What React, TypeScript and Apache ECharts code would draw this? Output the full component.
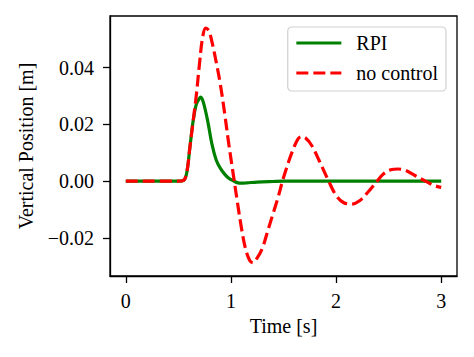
import React, { useEffect, useRef } from "react";
import * as echarts from "echarts";

const rpiTime = [0, 0.5, 0.55, 0.58, 0.61, 0.64, 0.67, 0.7, 0.714, 0.74, 0.78, 0.82, 0.86, 0.9, 0.94, 0.98, 1.02, 1.06, 1.1, 1.15, 1.25, 1.4, 1.5, 3.0];
const rpiValue = [0, 0, 0.0003, 0.003, 0.012, 0.021, 0.027, 0.0292, 0.0296, 0.0275, 0.021, 0.013, 0.0075, 0.0045, 0.0025, 0.001, 0.0002, -0.0005, -0.0007, -0.0006, -0.0003, -0.0001, 0, 0];

const noCtrlTime = [0, 0.5, 0.55, 0.58, 0.61, 0.64, 0.67, 0.7, 0.73, 0.76, 0.79, 0.82, 0.86, 0.9, 0.94, 0.98, 1.02, 1.06, 1.1, 1.14, 1.18, 1.21, 1.25, 1.3, 1.35, 1.4, 1.45, 1.49, 1.55, 1.6, 1.64, 1.67, 1.71, 1.77, 1.84, 1.93, 2.0, 2.07, 2.15, 2.22, 2.3, 2.39, 2.45, 2.52, 2.59, 2.66, 2.75, 2.85, 2.93, 3.0];
const noCtrlValue = [0, 0, 0.0003, 0.003, 0.012, 0.021, 0.03, 0.041, 0.0505, 0.0539, 0.053, 0.049, 0.042, 0.034, 0.024, 0.013, 0.003, -0.007, -0.0165, -0.024, -0.028, -0.0287, -0.027, -0.0235, -0.0175, -0.0115, -0.0055, 0, 0.007, 0.012, 0.015, 0.0157, 0.0152, 0.0125, 0.0072, 0, -0.005, -0.0075, -0.0081, -0.007, -0.004, 0, 0.0025, 0.004, 0.0043, 0.0038, 0.002, 0, -0.0015, -0.0022];

const xTicks = [0, 1, 2, 3];
const yTicks = [-0.02, 0, 0.02, 0.04];

const FONT = "Liberation Serif";

export default function App() {
  const ref = useRef<HTMLDivElement>(null);
  useEffect(() => {
    if (!ref.current) return;
    const chart = echarts.init(ref.current, undefined, { renderer: "svg" });
    const rpi = rpiTime.map((t, i) => [t, rpiValue[i]]);
    const nc = noCtrlTime.map((t, i) => [t, noCtrlValue[i]]);
    chart.setOption({
      animation: false,
      backgroundColor: "#fff",
      textStyle: { fontFamily: FONT },
      grid: {
        left: 110,
        top: 16,
        width: 347,
        height: 260,
        show: true,
        borderColor: "#000",
        borderWidth: 1.3,
        backgroundColor: "transparent",
      },
      legend: {
        orient: "vertical",
        right: 28,
        top: 27,
        padding: [6, 8, 8, 7],
        itemWidth: 45,
        itemHeight: 20,
        itemGap: 10,
        borderColor: "#d0d0d0",
        borderWidth: 1.2,
        borderRadius: 4,
        backgroundColor: "rgba(255,255,255,0.85)",
        itemStyle: { opacity: 0 },
        lineStyle: { width: 3.2 },
        textStyle: { fontFamily: FONT, fontSize: 20, color: "#000", lineHeight: 20, padding: [0, 0, 0, 10] },
        data: ["RPI", "no control"],
      },
      xAxis: {
        type: "value",
        min: -0.15,
        max: 3.15,
        name: "Time [s]",
        nameLocation: "middle",
        nameGap: 40,
        nameTextStyle: { fontFamily: FONT, fontSize: 20, color: "#000" },
        axisLine: { show: true, onZero: false, lineStyle: { color: "#000", width: 1.3 } },
        axisTick: { show: true, inside: false, length: 7, lineStyle: { color: "#000", width: 1.3 }, customValues: xTicks },
        axisLabel: { fontFamily: FONT, fontSize: 20, color: "#000", margin: 15, customValues: xTicks, formatter: (v: number) => String(v) },
        splitLine: { show: false },
      },
      yAxis: {
        type: "value",
        min: -0.0334,
        max: 0.0582,
        name: "Vertical Position [m]",
        nameLocation: "middle",
        nameGap: 74,
        nameRotate: 90,
        nameTextStyle: { fontFamily: FONT, fontSize: 20, color: "#000" },
        axisLine: { show: true, onZero: false, lineStyle: { color: "#000", width: 1.3 } },
        axisTick: { show: true, inside: false, length: 7, lineStyle: { color: "#000", width: 1.3 }, customValues: yTicks },
        axisLabel: {
          fontFamily: FONT,
          fontSize: 20,
          color: "#000",
          margin: 16,
          customValues: yTicks,
          formatter: (v: number) => v.toFixed(2).replace("-", "\u2212"),
        },
        splitLine: { show: false },
      },
      series: [
        {
          name: "RPI",
          type: "line",
          data: rpi,
          symbol: "none",
          smooth: 0.35,
          z: 3,
          lineStyle: { color: "#008000", width: 3.2 },
          itemStyle: { color: "#008000" },
        },
        {
          name: "no control",
          type: "line",
          data: nc,
          symbol: "none",
          smooth: 0.35,
          z: 4,
          lineStyle: { color: "#ff0000", width: 3.2, type: [12, 5] },
          itemStyle: { color: "#ff0000" },
        },
      ],
    });
    return () => chart.dispose();
  }, []);
  return <div ref={ref} style={{ position: "fixed", left: 0, top: 0, width: 474, height: 357 }} />;
}
